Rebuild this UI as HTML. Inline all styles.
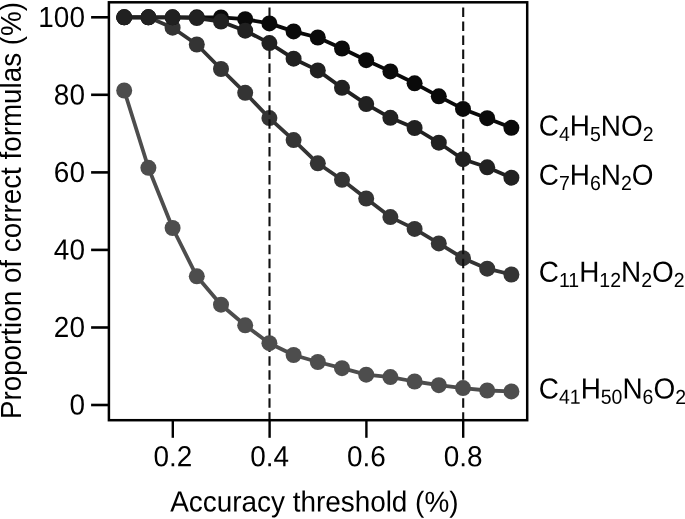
<!DOCTYPE html>
<html><head><meta charset="utf-8"><title>Proportion of correct formulas</title>
<style>html,body{margin:0;padding:0;background:#fff}svg{display:block;filter:blur(0.3px)}text{font-family:"Liberation Sans",sans-serif;fill:#000}</style></head>
<body>
<svg width="685" height="519" viewBox="0 0 685 519">
<rect width="685" height="519" fill="#fff"/>
<g fill="#343434" stroke="none"><polyline points="124.2,17.3 148.4,17.3 172.6,27.7 196.8,44.5 221.0,69.0 245.2,92.8 269.4,118.1 293.6,140.1 317.8,163.3 342.0,179.8 366.2,198.5 390.4,217.1 414.6,228.9 438.8,243.4 463.0,258.2 487.2,268.7 511.4,274.5" fill="none" stroke="#343434" stroke-width="3.8" stroke-linejoin="round"/><circle cx="124.2" cy="17.3" r="8.0"/><circle cx="148.4" cy="17.3" r="8.0"/><circle cx="172.6" cy="27.7" r="8.0"/><circle cx="196.8" cy="44.5" r="8.0"/><circle cx="221.0" cy="69.0" r="8.0"/><circle cx="245.2" cy="92.8" r="8.0"/><circle cx="269.4" cy="118.1" r="8.0"/><circle cx="293.6" cy="140.1" r="8.0"/><circle cx="317.8" cy="163.3" r="8.0"/><circle cx="342.0" cy="179.8" r="8.0"/><circle cx="366.2" cy="198.5" r="8.0"/><circle cx="390.4" cy="217.1" r="8.0"/><circle cx="414.6" cy="228.9" r="8.0"/><circle cx="438.8" cy="243.4" r="8.0"/><circle cx="463.0" cy="258.2" r="8.0"/><circle cx="487.2" cy="268.7" r="8.0"/><circle cx="511.4" cy="274.5" r="8.0"/></g>
<line x1="269.5" y1="7.6" x2="269.5" y2="420" stroke="#111" stroke-width="2.1" stroke-dasharray="9.5 4.45"/>
<line x1="463.2" y1="7.6" x2="463.2" y2="420" stroke="#111" stroke-width="2.1" stroke-dasharray="9.5 4.45"/>
<g fill="#4d4d4d" stroke="none"><polyline points="124.2,90.5 148.4,167.8 172.6,228.0 196.8,276.3 221.0,304.7 245.2,325.3 269.4,343.2 293.6,355.0 317.8,362.0 342.0,368.2 366.2,374.7 390.4,377.1 414.6,381.5 438.8,385.2 463.0,388.1 487.2,390.5 511.4,391.4" fill="none" stroke="#4d4d4d" stroke-width="3.8" stroke-linejoin="round"/><circle cx="124.2" cy="90.5" r="8.0"/><circle cx="148.4" cy="167.8" r="8.0"/><circle cx="172.6" cy="228.0" r="8.0"/><circle cx="196.8" cy="276.3" r="8.0"/><circle cx="221.0" cy="304.7" r="8.0"/><circle cx="245.2" cy="325.3" r="8.0"/><circle cx="269.4" cy="343.2" r="8.0"/><circle cx="293.6" cy="355.0" r="8.0"/><circle cx="317.8" cy="362.0" r="8.0"/><circle cx="342.0" cy="368.2" r="8.0"/><circle cx="366.2" cy="374.7" r="8.0"/><circle cx="390.4" cy="377.1" r="8.0"/><circle cx="414.6" cy="381.5" r="8.0"/><circle cx="438.8" cy="385.2" r="8.0"/><circle cx="463.0" cy="388.1" r="8.0"/><circle cx="487.2" cy="390.5" r="8.0"/><circle cx="511.4" cy="391.4" r="8.0"/></g>
<g fill="#0a0a0a" stroke="none"><polyline points="124.2,17.3 148.4,17.3 172.6,17.3 196.8,17.3 221.0,17.4 245.2,19.2 269.4,23.4 293.6,31.4 317.8,37.5 342.0,48.5 366.2,60.2 390.4,71.4 414.6,83.3 438.8,96.3 463.0,108.9 487.2,118.2 511.4,127.8" fill="none" stroke="#0a0a0a" stroke-width="3.8" stroke-linejoin="round"/><circle cx="124.2" cy="17.3" r="8.0"/><circle cx="148.4" cy="17.3" r="8.0"/><circle cx="172.6" cy="17.3" r="8.0"/><circle cx="196.8" cy="17.3" r="8.0"/><circle cx="221.0" cy="17.4" r="8.0"/><circle cx="245.2" cy="19.2" r="8.0"/><circle cx="269.4" cy="23.4" r="8.0"/><circle cx="293.6" cy="31.4" r="8.0"/><circle cx="317.8" cy="37.5" r="8.0"/><circle cx="342.0" cy="48.5" r="8.0"/><circle cx="366.2" cy="60.2" r="8.0"/><circle cx="390.4" cy="71.4" r="8.0"/><circle cx="414.6" cy="83.3" r="8.0"/><circle cx="438.8" cy="96.3" r="8.0"/><circle cx="463.0" cy="108.9" r="8.0"/><circle cx="487.2" cy="118.2" r="8.0"/><circle cx="511.4" cy="127.8" r="8.0"/></g>
<g fill="#212121" stroke="none"><polyline points="124.2,17.3 148.4,17.3 172.6,17.3 196.8,18.0 221.0,21.6 245.2,30.7 269.4,43.1 293.6,58.7 317.8,70.4 342.0,87.8 366.2,104.1 390.4,117.8 414.6,128.0 438.8,142.7 463.0,159.2 487.2,167.3 511.4,177.7" fill="none" stroke="#212121" stroke-width="3.8" stroke-linejoin="round"/><circle cx="124.2" cy="17.3" r="8.0"/><circle cx="148.4" cy="17.3" r="8.0"/><circle cx="172.6" cy="17.3" r="8.0"/><circle cx="196.8" cy="18.0" r="8.0"/><circle cx="221.0" cy="21.6" r="8.0"/><circle cx="245.2" cy="30.7" r="8.0"/><circle cx="269.4" cy="43.1" r="8.0"/><circle cx="293.6" cy="58.7" r="8.0"/><circle cx="317.8" cy="70.4" r="8.0"/><circle cx="342.0" cy="87.8" r="8.0"/><circle cx="366.2" cy="104.1" r="8.0"/><circle cx="390.4" cy="117.8" r="8.0"/><circle cx="414.6" cy="128.0" r="8.0"/><circle cx="438.8" cy="142.7" r="8.0"/><circle cx="463.0" cy="159.2" r="8.0"/><circle cx="487.2" cy="167.3" r="8.0"/><circle cx="511.4" cy="177.7" r="8.0"/></g>
<rect x="108.9" y="2.3" width="418.3" height="417.9" fill="none" stroke="#000" stroke-width="2.5"/>
<g stroke="#000" stroke-width="2.6"><line x1="91.1" y1="405.0" x2="108" y2="405.0"/><line x1="91.1" y1="327.5" x2="108" y2="327.5"/><line x1="91.1" y1="249.9" x2="108" y2="249.9"/><line x1="91.1" y1="172.4" x2="108" y2="172.4"/><line x1="91.1" y1="94.8" x2="108" y2="94.8"/><line x1="91.1" y1="17.3" x2="108" y2="17.3"/></g>
<g stroke="#000" stroke-width="2.4"><line x1="172.8" y1="421" x2="172.8" y2="437.8"/><line x1="269.6" y1="421" x2="269.6" y2="437.8"/><line x1="366.4" y1="421" x2="366.4" y2="437.8"/><line x1="463.2" y1="421" x2="463.2" y2="437.8"/></g>
<g font-size="27.9px">
<text transform="translate(84.9 414.6) rotate(0.03) scale(1 1.04)" text-anchor="end">0</text><text transform="translate(84.9 337.1) rotate(0.03) scale(1 1.04)" text-anchor="end">20</text><text transform="translate(84.9 259.6) rotate(0.03) scale(1 1.04)" text-anchor="end">40</text><text transform="translate(84.9 182.0) rotate(0.03) scale(1 1.04)" text-anchor="end">60</text><text transform="translate(84.9 104.5) rotate(0.03) scale(1 1.04)" text-anchor="end">80</text><text transform="translate(84.9 27.0) rotate(0.03) scale(1 1.04)" text-anchor="end">100</text>
<text transform="translate(172.8 466.2) rotate(0.03) scale(1 1.04)" text-anchor="middle">0.2</text><text transform="translate(269.6 466.2) rotate(0.03) scale(1 1.04)" text-anchor="middle">0.4</text><text transform="translate(366.4 466.2) rotate(0.03) scale(1 1.04)" text-anchor="middle">0.6</text><text transform="translate(463.2 466.2) rotate(0.03) scale(1 1.04)" text-anchor="middle">0.8</text>
<text transform="translate(170.2 511.5) rotate(0.03) scale(1 1.04)">Accuracy threshold (%)</text>
<text transform="translate(20.8 419.1) rotate(-90) scale(0.997 1.04)">Proportion of correct formulas (%)</text>
<text transform="translate(538.8 135.6) rotate(0.03) scale(1 1.04)">C<tspan font-size="19.5px" dy="5.1">4</tspan><tspan dy="-5.1">H</tspan><tspan font-size="19.5px" dy="5.1">5</tspan><tspan dy="-5.1">N</tspan>O<tspan font-size="19.5px" dy="5.1">2</tspan></text>
<text transform="translate(538.8 184.7) rotate(0.03) scale(1 1.04)">C<tspan font-size="19.5px" dy="5.1">7</tspan><tspan dy="-5.1">H</tspan><tspan font-size="19.5px" dy="5.1">6</tspan><tspan dy="-5.1">N</tspan><tspan font-size="19.5px" dy="5.1">2</tspan><tspan dy="-5.1">O</tspan></text>
<text transform="translate(538.8 281.7) rotate(0.03) scale(1 1.04)">C<tspan font-size="19.5px" dy="5.1">11</tspan><tspan dy="-5.1">H</tspan><tspan font-size="19.5px" dy="5.1">12</tspan><tspan dy="-5.1">N</tspan><tspan font-size="19.5px" dy="5.1">2</tspan><tspan dy="-5.1">O</tspan><tspan font-size="19.5px" dy="5.1">2</tspan></text>
<text transform="translate(538.8 398.5) rotate(0.03) scale(1 1.04)">C<tspan font-size="19.5px" dy="5.1">41</tspan><tspan dy="-5.1">H</tspan><tspan font-size="19.5px" dy="5.1">50</tspan><tspan dy="-5.1">N</tspan><tspan font-size="19.5px" dy="5.1">6</tspan><tspan dy="-5.1">O</tspan><tspan font-size="19.5px" dy="5.1">2</tspan></text>
</g>
</svg>
</body></html>
